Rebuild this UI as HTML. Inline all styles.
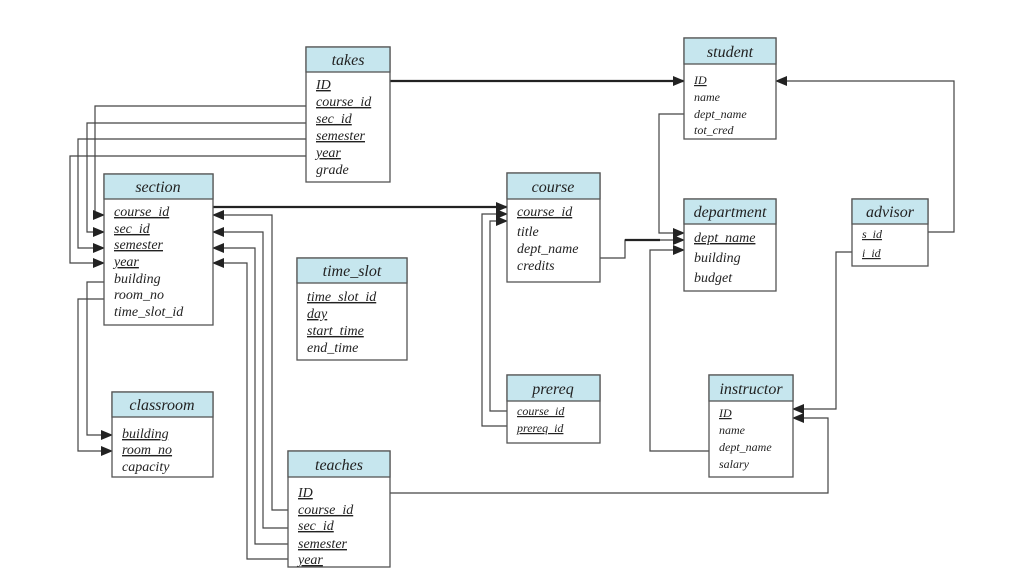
<!DOCTYPE html>
<html><head><meta charset="utf-8"><style>
html,body{margin:0;padding:0;background:#fff;}
svg{display:block;}
text{font-family:"Liberation Serif",serif;font-style:italic;fill:#222;}
.h{font-size:16px;}
.a{font-size:14px;}
.s{font-size:12px;}
.box{fill:#fff;stroke:#555;stroke-width:1.3;}
.hd{fill:#c6e6ee;stroke:#555;stroke-width:1.3;}
.l{fill:none;stroke:#444;stroke-width:1.2;}
.t{fill:none;stroke:#222;stroke-width:2.2;}
</style></head><body>
<svg width="1024" height="583" viewBox="0 0 1024 583" xmlns="http://www.w3.org/2000/svg">
<defs>
<marker id="ar" markerWidth="12" markerHeight="10" refX="11" refY="5" orient="auto" markerUnits="userSpaceOnUse">
<path d="M0,0 L12,5 L0,10 z" fill="#222"/></marker>
</defs>

<path class="t" d="M390,81 H684" marker-end="url(#ar)"/>
<path class="l" d="M306,106 H95 V215 H104" marker-end="url(#ar)"/>
<path class="l" d="M306,123 H87 V232 H104" marker-end="url(#ar)"/>
<path class="l" d="M306,139 H78 V248 H104" marker-end="url(#ar)"/>
<path class="l" d="M306,156 H70 V263 H104" marker-end="url(#ar)"/>
<path class="t" d="M213,207 H507" marker-end="url(#ar)"/>
<path class="l" d="M507,426 H482 V214 H507" marker-end="url(#ar)"/>
<path class="l" d="M507,411 H490 V221 H507" marker-end="url(#ar)"/>
<path class="l" d="M289,510 H272 V215 H213" marker-end="url(#ar)"/>
<path class="l" d="M289,528 H263 V232 H213" marker-end="url(#ar)"/>
<path class="l" d="M289,544 H255 V248 H213" marker-end="url(#ar)"/>
<path class="l" d="M289,559 H247 V263 H213" marker-end="url(#ar)"/>
<path class="l" d="M104,282 H87 V435 H112" marker-end="url(#ar)"/>
<path class="l" d="M104,299 H78 V451 H112" marker-end="url(#ar)"/>
<path class="l" d="M600,258 H625 V240 H684" marker-end="url(#ar)"/>
<path class="t" d="M625,240 H660"/>
<path class="l" d="M684,114 H659 V233 H684" marker-end="url(#ar)"/>
<path class="l" d="M709,451 H650 V250 H684" marker-end="url(#ar)"/>
<path class="l" d="M928,232 H954 V81 H776" marker-end="url(#ar)"/>
<path class="l" d="M852,252 H836 V409 H793" marker-end="url(#ar)"/>
<path class="l" d="M390,493 H828 V418 H793" marker-end="url(#ar)"/>

<rect class="box" x="306" y="47" width="84" height="135"/>
<rect class="hd" x="306" y="47" width="84" height="25"/>
<text class="h" x="348" y="65" text-anchor="middle">takes</text>
<text class="a" x="316" y="89" text-decoration="underline">ID</text>
<text class="a" x="316" y="106" text-decoration="underline">course_id</text>
<text class="a" x="316" y="123" text-decoration="underline">sec_id</text>
<text class="a" x="316" y="140" text-decoration="underline">semester</text>
<text class="a" x="316" y="157" text-decoration="underline">year</text>
<text class="a" x="316" y="174">grade</text>

<rect class="box" x="104" y="174" width="109" height="151"/>
<rect class="hd" x="104" y="174" width="109" height="25"/>
<text class="h" x="158" y="192" text-anchor="middle">section</text>
<text class="a" x="114" y="216" text-decoration="underline">course_id</text>
<text class="a" x="114" y="233" text-decoration="underline">sec_id</text>
<text class="a" x="114" y="249" text-decoration="underline">semester</text>
<text class="a" x="114" y="266" text-decoration="underline">year</text>
<text class="a" x="114" y="283">building</text>
<text class="a" x="114" y="299">room_no</text>
<text class="a" x="114" y="316">time_slot_id</text>

<rect class="box" x="297" y="258" width="110" height="102"/>
<rect class="hd" x="297" y="258" width="110" height="25"/>
<text class="h" x="352" y="276" text-anchor="middle">time_slot</text>
<text class="a" x="307" y="301" text-decoration="underline">time_slot_id</text>
<text class="a" x="307" y="318" text-decoration="underline">day</text>
<text class="a" x="307" y="335" text-decoration="underline">start_time</text>
<text class="a" x="307" y="352">end_time</text>

<rect class="box" x="112" y="392" width="101" height="85"/>
<rect class="hd" x="112" y="392" width="101" height="25"/>
<text class="h" x="162" y="410" text-anchor="middle">classroom</text>
<text class="a" x="122" y="438" text-decoration="underline">building</text>
<text class="a" x="122" y="454" text-decoration="underline">room_no</text>
<text class="a" x="122" y="471">capacity</text>

<rect class="box" x="288" y="451" width="102" height="116"/>
<rect class="hd" x="288" y="451" width="102" height="26"/>
<text class="h" x="339" y="470" text-anchor="middle">teaches</text>
<text class="a" x="298" y="497" text-decoration="underline">ID</text>
<text class="a" x="298" y="514" text-decoration="underline">course_id</text>
<text class="a" x="298" y="530" text-decoration="underline">sec_id</text>
<text class="a" x="298" y="548" text-decoration="underline">semester</text>
<text class="a" x="298" y="564" text-decoration="underline">year</text>

<rect class="box" x="684" y="38" width="92" height="101"/>
<rect class="hd" x="684" y="38" width="92" height="26"/>
<text class="h" x="730" y="57" text-anchor="middle">student</text>
<text class="s" x="694" y="84" text-decoration="underline">ID</text>
<text class="s" x="694" y="101">name</text>
<text class="s" x="694" y="118">dept_name</text>
<text class="s" x="694" y="134">tot_cred</text>

<rect class="box" x="507" y="173" width="93" height="109"/>
<rect class="hd" x="507" y="173" width="93" height="26"/>
<text class="h" x="553" y="192" text-anchor="middle">course</text>
<text class="a" x="517" y="216" text-decoration="underline">course_id</text>
<text class="a" x="517" y="236">title</text>
<text class="a" x="517" y="253">dept_name</text>
<text class="a" x="517" y="270">credits</text>

<rect class="box" x="684" y="199" width="92" height="92"/>
<rect class="hd" x="684" y="199" width="92" height="25"/>
<text class="h" x="730" y="217" text-anchor="middle">department</text>
<text class="a" x="694" y="242" text-decoration="underline">dept_name</text>
<text class="a" x="694" y="262">building</text>
<text class="a" x="694" y="282">budget</text>

<rect class="box" x="852" y="199" width="76" height="67"/>
<rect class="hd" x="852" y="199" width="76" height="25"/>
<text class="h" x="890" y="217" text-anchor="middle">advisor</text>
<text class="s" x="862" y="238" text-decoration="underline">s_id</text>
<text class="s" x="862" y="257" text-decoration="underline">i_id</text>

<rect class="box" x="507" y="375" width="93" height="68"/>
<rect class="hd" x="507" y="375" width="93" height="26"/>
<text class="h" x="553" y="394" text-anchor="middle">prereq</text>
<text class="s" x="517" y="415" text-decoration="underline">course_id</text>
<text class="s" x="517" y="432" text-decoration="underline">prereq_id</text>

<rect class="box" x="709" y="375" width="84" height="102"/>
<rect class="hd" x="709" y="375" width="84" height="26"/>
<text class="h" x="751" y="394" text-anchor="middle">instructor</text>
<text class="s" x="719" y="417" text-decoration="underline">ID</text>
<text class="s" x="719" y="434">name</text>
<text class="s" x="719" y="451">dept_name</text>
<text class="s" x="719" y="468">salary</text>
</svg>
</body></html>
